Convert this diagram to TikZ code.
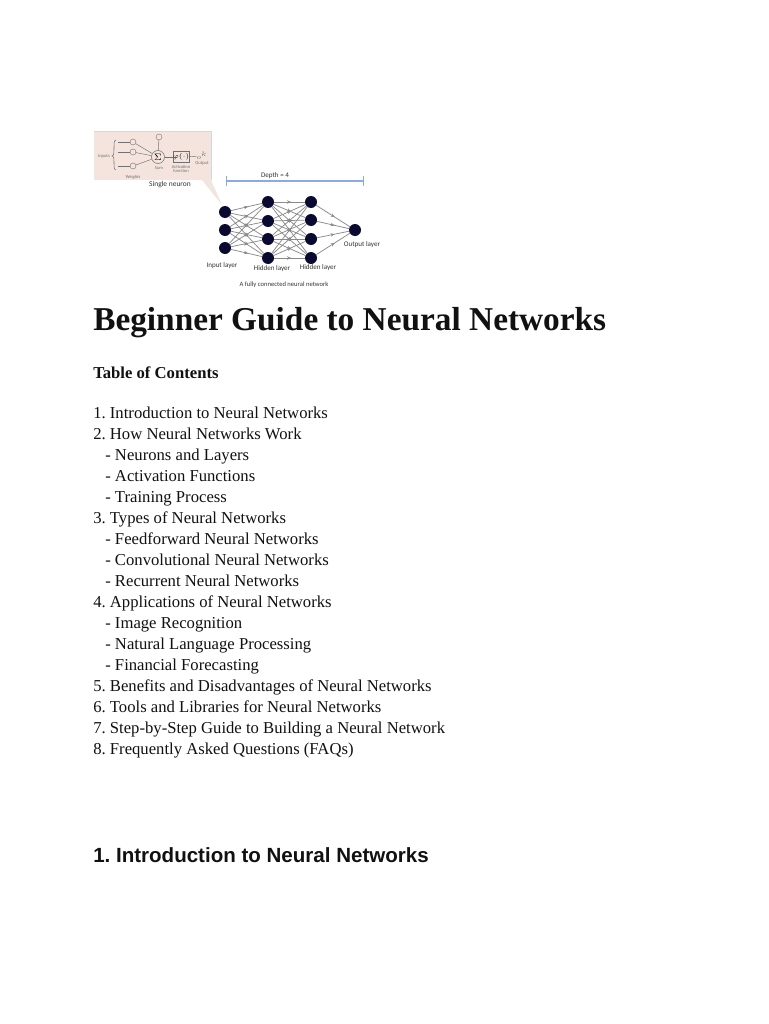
\documentclass[tikz,border=0pt]{standalone}
\usepackage{fontspec}
\setmainfont{Liberation Serif}
\setsansfont{Liberation Sans}
\newfontfamily\labfont{Carlito}
\usetikzlibrary{arrows.meta,decorations.markings}
\frenchspacing
\definecolor{pinkbg}{HTML}{F4E4DD}
\definecolor{tailbg}{HTML}{F0E6DF}
\definecolor{netnode}{HTML}{0A0A30}
\definecolor{bar}{HTML}{8CABD6}
\definecolor{edge}{HTML}{8A8A8A}
\definecolor{ink}{HTML}{111111}
\definecolor{soft}{HTML}{707070}
\tikzset{
  neuron/.style={circle,fill=netnode,inner sep=0pt,minimum size=12*0.75pt},
  link/.style={draw=edge,line width=0.55pt,postaction={decorate},decoration={markings,mark=at position 0.55 with {\arrow[edge]{Stealth[length=3pt,width=2.6pt]}}}},
  toc/.style={anchor=base west,inner sep=0pt,font=\fontsize{12.5}{15}\selectfont,text=ink},
  tiny/.style={inner sep=0pt,text=soft,font=\labfont\fontsize{3.4}{3.6}\selectfont,align=center},
  small/.style={inner sep=0pt,text=ink!85,font=\labfont\fontsize{5.3}{6.5}\selectfont},
  mini/.style={circle,draw=soft,line width=0.3pt,inner sep=0pt,minimum size=6*0.75pt},
  thinlink/.style={draw=soft,line width=0.35pt},
}
\begin{document}
\begin{tikzpicture}[x=0.75pt,y=-0.75pt]
\useasboundingbox (0,0) rectangle (768,1024);
\fill[white] (0,0) rectangle (768,1024);
% callout
\fill[tailbg] (202,180) -- (211,180) -- (222,205) -- cycle;
\fill[pinkbg] (94,131) rectangle (211,180);
\draw[bar!45,line width=0.5pt] (94,131) -- (211,131) -- (211,180);
% single neuron inset
\node[mini] (x1) at (133,142) {};
\node[mini] (x2) at (133,152) {};
\node[mini] (x3) at (133,166) {};
\node[circle,draw=soft,line width=0.4pt,inner sep=0pt,minimum size=13*0.75pt,font=\fontsize{7}{7}\selectfont] (sum) at (158,157) {$\Sigma$};
\node[mini] (bias) at (159,137) {};
\node[draw=soft,line width=0.3pt,inner sep=0pt,minimum width=11*0.75pt,minimum height=11*0.75pt,font=\fontsize{2.5}{3}\selectfont] (act) at (181,157) {$\varphi(\cdot)$};
\node[tiny] (out) at (202,156) {$o^k$};
\node[tiny] (inlab) at (104,156) {Inputs};
\node[tiny] (wlab) at (133,177) {Weights};
\node[tiny] (sumlab) at (159,168) {Sum};
\node[tiny] (actlab) at (181,169) {Activation\\function};
\node[tiny] (outlab) at (202,163) {Output};
\coordinate (i1) at (118,142); \coordinate (i2) at (118,152); \coordinate (i3) at (118,166);
\draw[thinlink] (i1) -- (x1);
\draw[thinlink] (i2) -- (x2);
\draw[thinlink] (i3) -- (x3);
\draw[thinlink] (x1) -- (sum);
\draw[thinlink] (x2) -- (sum);
\draw[thinlink] (x3) -- (sum);
\draw[thinlink] (bias) -- (sum);
\draw[thinlink] (sum) -- (act);
\draw[thinlink] (act) -- (out);
\draw[soft,line width=0.4pt] (116,140) .. controls (112,140) and (116,156) .. (112,156) .. controls (116,156) and (112,170) .. (116,170);
\node[small,font=\labfont\fontsize{5.6}{6.5}\selectfont] (single) at (170,185) {Single neuron};
% network
\foreach \n/\x/\y in {a1/225/212,a2/225/230,a3/225/248,
  b1/268/202,b2/268/221,b3/268/239,b4/268/258,
  c1/311/202,c2/311/220,c3/311/239,c4/311/258,d1/355/230}
  \node[neuron] (\n) at (\x,\y) {};
\foreach \s in {a1,a2,a3} \foreach \t in {b1,b2,b3,b4}
  \draw[link] (\s) -- (\t);
\foreach \s in {b1,b2,b3,b4} \foreach \t in {c1,c2,c3,c4}
  \draw[link] (\s) -- (\t);
\foreach \s in {c1,c2,c3,c4}
  \draw[link] (\s) -- (d1);
\coordinate (dl) at (226,181); \coordinate (dr) at (364,181);
\draw[bar,line width=0.8pt,{Bar[width=7pt,length=0pt]}-{Bar[width=7pt,length=0pt]}] (dl) -- (dr);
\node[small] (depth) at (275,176) {Depth = 4};
\node[small] (inputl) at (222,266) {Input layer};
\node[small] (hid1) at (272,268.5) {Hidden layer};
\node[small] (hid2) at (318,268) {Hidden layer};
\node[small] (outl) at (362,245) {Output layer};
\node[small,font=\labfont\fontsize{4.95}{6}\selectfont] (cap) at (284,285) {A fully connected neural network};
% text
\node[anchor=base west,inner sep=0pt,font=\bfseries\fontsize{25}{29}\selectfont,text=ink] (title) at (93,330) {Beginner Guide to Neural Networks};
\node[toc,font=\bfseries\fontsize{12.5}{15}\selectfont] (tochead) at (93,378) {Table of Contents};
\node[toc] (t1) at (93,418.5) {1. Introduction to Neural Networks};
\node[toc] (t2) at (93,439.5) {2. How Neural Networks Work};
\node[toc] (t3) at (105,460.5) {- Neurons and Layers};
\node[toc] (t4) at (105,481.5) {- Activation Functions};
\node[toc] (t5) at (105,502.5) {- Training Process};
\node[toc] (t6) at (93,523.5) {3. Types of Neural Networks};
\node[toc] (t7) at (105,544.5) {- Feedforward Neural Networks};
\node[toc] (t8) at (105,565.5) {- Convolutional Neural Networks};
\node[toc] (t9) at (105,586.5) {- Recurrent Neural Networks};
\node[toc] (t10) at (93,607.5) {4. Applications of Neural Networks};
\node[toc] (t11) at (105,628.5) {- Image Recognition};
\node[toc] (t12) at (105,649.5) {- Natural Language Processing};
\node[toc] (t13) at (105,670.5) {- Financial Forecasting};
\node[toc] (t14) at (93,691.5) {5. Benefits and Disadvantages of Neural Networks};
\node[toc] (t15) at (93,712.5) {6. Tools and Libraries for Neural Networks};
\node[toc] (t16) at (93,733.5) {7. Step-by-Step Guide to Building a Neural Network};
\node[toc] (t17) at (93,754.5) {8. Frequently Asked Questions (FAQs)};
\node[anchor=base west,inner sep=0pt,font=\sffamily\bfseries\fontsize{15.4}{18}\selectfont,text=ink] (h1) at (93,862) {1. Introduction to Neural Networks};
\end{tikzpicture}
\end{document}
